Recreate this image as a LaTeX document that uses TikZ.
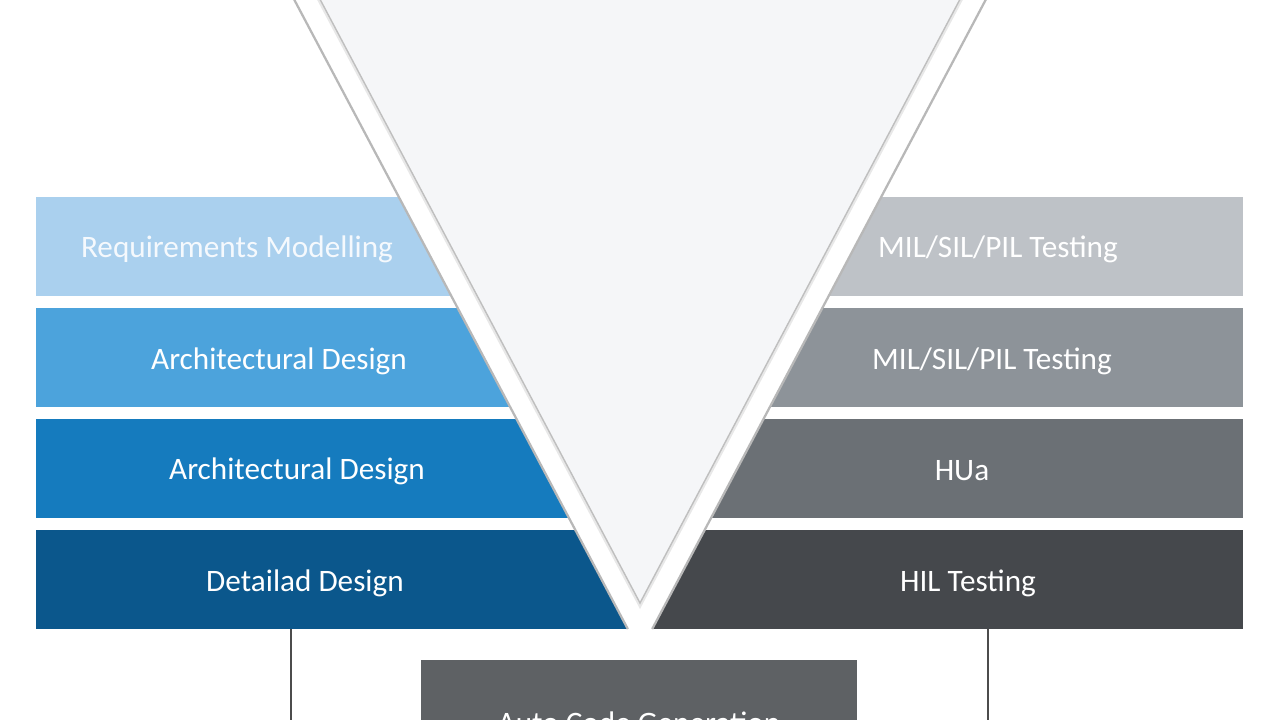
\documentclass[tikz,border=0pt]{standalone}
\usepackage{fontspec}
\setmainfont{Carlito}
\usepackage{tikz}
\usetikzlibrary{positioning}
\definecolor{reqblue}{RGB}{170,208,238}
\definecolor{archblue}{RGB}{76,163,220}
\definecolor{archdeep}{RGB}{21,123,190}
\definecolor{detailblue}{RGB}{11,87,140}
\definecolor{testlight}{RGB}{190,194,199}
\definecolor{testmid}{RGB}{141,147,153}
\definecolor{testdark}{RGB}{107,112,117}
\definecolor{hilgray}{RGB}{69,72,76}
\definecolor{codegray}{RGB}{94,97,100}
\definecolor{vfill}{RGB}{245,246,248}

\begin{document}
\begin{tikzpicture}[
  x=0.025cm, y=-0.025cm,
  lbl/.style={text=white, inner sep=0pt, font=\fontsize{22.2}{24}\selectfont},
  vedge/.style={draw=black!28, line width=1.6pt},
  vshade/.style={draw=black!9, line width=4pt},
  stem/.style={draw=black!70, line width=0.8pt},
  codebox/.style={fill=codegray, text=white, inner sep=0pt,
                  minimum width=10.9cm, minimum height=3.1cm,
                  font=\fontsize{22.2}{24}\selectfont}
]
\useasboundingbox (0,0) rectangle (1280,720);
\clip (0,0) rectangle (1280,720);

% Left bars
\fill[reqblue] (36,197) rectangle (640,296);
\fill[archblue] (36,308) rectangle (640,407);
\fill[archdeep] (36,419) rectangle (640,518);
\fill[detailblue] (36,530) rectangle (640,629);

% Right bars
\fill[testlight] (640,197) rectangle (1243,296);
\fill[testmid] (640,308) rectangle (1243,407);
\fill[testdark] (640,419) rectangle (1243,518);
\fill[hilgray] (640,530) rectangle (1243,629);

% V
\fill[white] (289.1,-10) -- (990.9,-10) -- (652.2,629) -- (627.8,629) -- cycle;
\draw[vedge] (289.1,-10) -- (627.8,629);
\draw[vedge] (990.9,-10) -- (652.2,629);
\draw[vshade] (315.1,-10) -- (640,603) -- (964.9,-10);
\fill[vfill, draw=black!25, line width=1pt] (315.1,-10) -- (640,603) -- (964.9,-10) -- cycle;

\node[lbl, text=white!88!reqblue] (req) at (237,249) {Requirements Modelling};
\node[lbl] (arch1) at (279,361) {Architectural Design};
\node[lbl] (arch2) at (297,471) {Architectural Design};
\node[lbl] (detail) at (305,583) {Detailad Design};
\node[lbl] (mil1) at (998,249) {MIL/SIL/PIL Testing};
\node[lbl] (mil2) at (992,361) {MIL/SIL/PIL Testing};
\node[lbl] (hil1) at (962,471) {HUa};
\node[lbl] (hil2) at (968,583) {HIL Testing};

% Stems
\coordinate (ltop) at (291,629);
\coordinate (lbot) at (291,725);
\coordinate (rtop) at (988,629);
\coordinate (rbot) at (988,725);
\draw[stem] (ltop) -- (lbot);
\draw[stem] (rtop) -- (rbot);

\node[codebox, anchor=north] (autocode) at (639,660) {Auto Code Generation};

\end{tikzpicture}
\end{document}
